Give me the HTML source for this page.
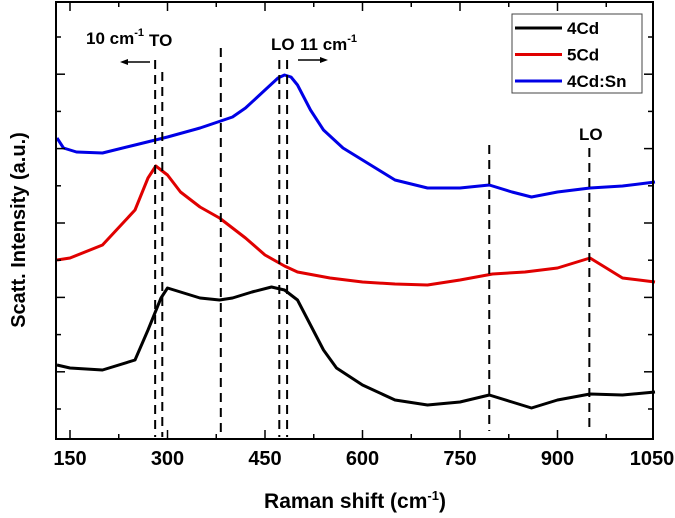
<!DOCTYPE html>
<html><head><meta charset="utf-8"><style>
body{margin:0;background:#fff}
svg text{font-family:"Liberation Sans",Arial,sans-serif;font-weight:bold}
</style></head><body>
<svg id="c" width="675" height="513" viewBox="0 0 675 513"></svg>
<script>
const ticksX=[150,300,450,600,750,900,1050];
const minorX=[225,375,525,675,825,975];
const wn4Cd=[130,150,200,250,270,290,300,320,350,380,400,430,460,480,500,520,540,560,600,650,700,750,795,830,860,900,950,1000,1050];
const int4Cd=[91,88,86,96,126,158,168,164,158,156,158,164,169,166,156,131,106,88,71,56,51,54,61,54,48,56,62,61,64];
const wn5Cd=[130,150,200,250,270,282,300,320,350,380,420,450,480,500,550,600,650,700,750,800,850,900,950,975,1000,1050];
const int5Cd=[196,198,211,246,278,290,281,264,249,238,218,201,190,184,178,174,172,171,176,182,184,188,198,188,178,174];
const wnSn=[130,140,160,200,250,300,350,400,420,450,470,480,490,500,520,540,570,600,650,700,750,795,830,860,900,950,1000,1050];
const intSn=[318,308,304,303,311,319,328,339,348,366,378,381,379,371,346,326,308,296,276,268,268,271,264,259,264,268,270,274];
const dashPos=[281,292,382,472,484,795,949];
const dashTop=[60,72,48,60,60,145,148];
const dashBot=[437,437,433,437,437,431,429];
const seriesNames=["4Cd","5Cd","4Cd:Sn"];
const seriesColors=["#000","#e00000","#0000e6"];

const L=56,R=653,T=2,B=439;
const xs=v=>70+(v-150)*0.65;
const ys=v=>456-v;
const svg=document.getElementById('c');
const NS='http://www.w3.org/2000/svg';
function mk(tag,attrs,parent){const e=document.createElementNS(NS,tag);for(const k in attrs)e.setAttribute(k,attrs[k]);(parent||svg).appendChild(e);return e;}

const allX=[wn4Cd,wn5Cd,wnSn],allY=[int4Cd,int5Cd,intSn],names=["series-4cd","series-5cd","series-4cd-sn"];
for(let s=0;s<3;s++){
  let d='';allX[s].forEach((x,i)=>{d+=(i?'L':'M')+xs(x).toFixed(1)+','+ys(allY[s][i]).toFixed(1);});
  const p=mk('path',{d:d,fill:'none',stroke:seriesColors[s],'stroke-width':3,'stroke-linejoin':'round'});
  
  
}
dashPos.forEach((x,i)=>{
  const l=mk('line',{x1:xs(x),x2:xs(x),y1:dashTop[i],y2:dashBot[i],stroke:'#000','stroke-width':2,'stroke-dasharray':'9,6'});
  
  
});
const fr=mk('rect',{x:L,y:T,width:R-L,height:B-T,fill:'none',stroke:'#000','stroke-width':2});


ticksX.forEach(v=>{
  const x=xs(v);
  if(x<=R+1){mk('line',{x1:x,x2:x,y1:B,y2:B-9,stroke:'#000','stroke-width':1.5});mk('line',{x1:x,x2:x,y1:T,y2:T+9,stroke:'#000','stroke-width':1.5});}
  const t=mk('text',{x:Math.min(x,652),y:465,'text-anchor':'middle','font-size':20});t.textContent=v;
  
  
});
minorX.forEach(v=>{const x=xs(v);mk('line',{x1:x,x2:x,y1:B,y2:B-5,stroke:'#000','stroke-width':1.5});mk('line',{x1:x,x2:x,y1:T,y2:T+5,stroke:'#000','stroke-width':1.5});});
for(let k=0;k<11;k++){const y=37+k*37.2;const len=k%2?9:5;
  mk('line',{x1:L,x2:L+len,y1:y,y2:y,stroke:'#000','stroke-width':1.5});
  mk('line',{x1:R,x2:R-len,y1:y,y2:y,stroke:'#000','stroke-width':1.5});}
let t=mk('text',{x:355,y:508,'text-anchor':'middle','font-size':21});
t.innerHTML='Raman shift (cm<tspan dy="-8" font-size="13">-1</tspan><tspan dy="8">)</tspan>';


t=mk('text',{x:0,y:0,'text-anchor':'middle','font-size':20,transform:'translate(25,230) rotate(-90)'});
t.textContent='Scatt. Intensity (a.u.)';


t=mk('text',{x:86,y:44,'font-size':17});t.innerHTML='10 cm<tspan dy="-8" font-size="11">-1</tspan>';


t=mk('text',{x:149,y:46,'font-size':17});t.textContent='TO';


t=mk('text',{x:271,y:50,'font-size':17});t.textContent='LO';


t=mk('text',{x:300,y:50,'font-size':17});t.innerHTML='11 cm<tspan dy="-8" font-size="11">-1</tspan>';


t=mk('text',{x:579,y:140,'font-size':17});t.textContent='LO';


mk('line',{x1:150,x2:126,y1:62,y2:62,stroke:'#000','stroke-width':1.5});
mk('path',{d:'M120,62 L128,59 L128,65 Z',fill:'#000'});
mk('line',{x1:298,x2:322,y1:60,y2:60,stroke:'#000','stroke-width':1.5});
mk('path',{d:'M328,60 L320,57 L320,63 Z',fill:'#000'});
const lg=mk('g',{});


mk('rect',{x:512,y:14,width:130,height:79,fill:'#fff',stroke:'#444','stroke-width':1},lg);
seriesNames.forEach((n,i)=>{const y=28+i*26.5;
  mk('line',{x1:515,x2:562,y1:y,y2:y,stroke:seriesColors[i],'stroke-width':3},lg);
  const e=mk('text',{x:567,y:y+6,'font-size':17},lg);e.textContent=n;
  
  
});
</script>
</body></html>
